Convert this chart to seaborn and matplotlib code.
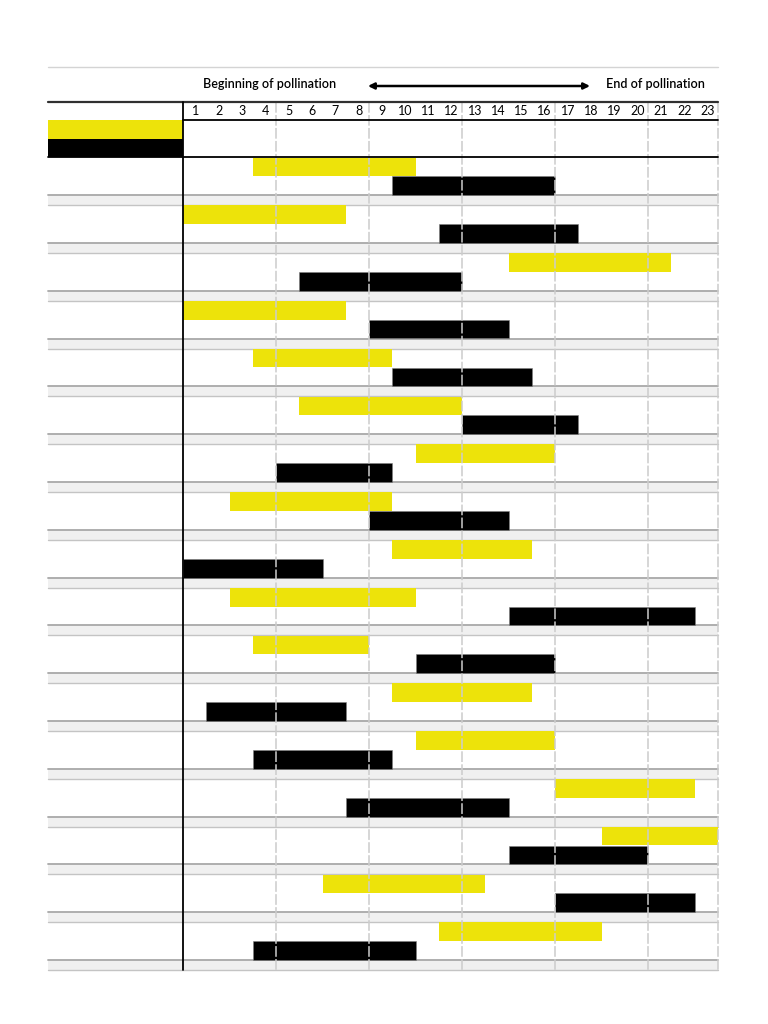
import matplotlib
matplotlib.use('Agg')
import matplotlib.pyplot as plt
import matplotlib.patches as mpatches
import seaborn as sns

# Pollination periods (column numbers 1..23), one pair per row group
yellow_start = [4, 1, 15, 1, 4, 6, 11, 3, 10, 3, 4, 10, 11, 17, 19, 7, 12]
yellow_end = [10, 7, 21, 7, 9, 12, 16, 9, 15, 10, 8, 15, 16, 22, 23, 13, 18]
black_start = [10, 12, 6, 9, 10, 13, 5, 9, 1, 15, 11, 2, 4, 8, 15, 17, 4]
black_end = [16, 17, 12, 14, 15, 17, 9, 14, 6, 22, 16, 7, 9, 14, 20, 22, 10]
columns = list(range(1, 24))
grid_cols = [4, 8, 12, 16, 20, 23]

YELLOW = '#ede30a'
BLACK = '#000000'

sns.set_theme(style='white')
plt.rcParams['font.family'] = ['Lato', 'DejaVu Sans']

fig = plt.figure(figsize=(7.68, 10.24), dpi=100)
ax = fig.add_axes([0, 0, 1, 1])

# x in column units, y in pixel rows (top down)
COL_W = 23.26
X0 = 183
ax.set_xlim(-X0 / COL_W, (768 - X0) / COL_W)
ax.set_ylim(1024, 0)
ax.axis('off')

LEFT = (48 - X0) / COL_W
RIGHT = 23
G0 = 157.5
PERIOD = 47.8
BAR_H = 18.8
SEP_H = 10
BOTTOM = G0 + (len(yellow_start) - 1) * PERIOD + 2 * BAR_H + SEP_H

# separator rows
for g in range(len(yellow_start)):
    top = G0 + g * PERIOD + 2 * BAR_H
    ax.add_patch(mpatches.Rectangle((LEFT, top), RIGHT - LEFT, SEP_H,
                                    facecolor='#f0f0f0', edgecolor='none', zorder=1))
    ax.plot([LEFT, RIGHT], [top, top], color='#a8a8a8', lw=1.3, zorder=2)
    ax.plot([LEFT, RIGHT], [top + SEP_H, top + SEP_H], color='#c4c4c4', lw=1, zorder=2)

# bars
for g in range(len(yellow_start)):
    top = G0 + g * PERIOD
    ax.barh(top + BAR_H / 2, yellow_end[g] - yellow_start[g] + 1, left=yellow_start[g] - 1,
            height=BAR_H, color=YELLOW, edgecolor='none', linewidth=0, zorder=3)
    ax.barh(top + BAR_H * 1.5, black_end[g] - black_start[g] + 1, left=black_start[g] - 1,
            height=BAR_H, color=BLACK, edgecolor='#808080', linewidth=0.4, zorder=3)

# legend swatches in the left column
ax.barh(129.5, -LEFT, left=LEFT, height=19, color=YELLOW, edgecolor='none', linewidth=0, zorder=3)
ax.barh(148, -LEFT, left=LEFT, height=18, color=BLACK, edgecolor='none', linewidth=0, zorder=3)

# grid lines every 4 columns
for c in grid_cols:
    ax.plot([c, c], [102, BOTTOM], color='#cccccc', lw=1.1, ls=(0, (7, 1.5)), zorder=4)

# frame lines
ax.plot([LEFT, RIGHT], [67, 67], color='#d4d4d4', lw=1, zorder=5)
ax.plot([LEFT, RIGHT], [102, 102], color='#303030', lw=1.6, zorder=5)
ax.plot([0, RIGHT], [120, 120], color='#000000', lw=1.3, zorder=5)
ax.plot([LEFT, RIGHT], [157, 157], color='#000000', lw=1.3, zorder=5)
ax.plot([0, 0], [102, BOTTOM], color='#000000', lw=1.3, zorder=5)

# header numbers
for c in columns:
    ax.text(c - 0.45, 111, str(c), ha='center', va='center', fontsize=9, color='#000000')

# title row
ax.text(3.74, 84, 'Beginning of pollination', ha='center', va='center',
        fontsize=9, fontweight='semibold', color='#000000')
ax.text(20.29, 84, 'End of pollination', ha='center', va='center',
        fontsize=9, fontweight='semibold', color='#000000')
ax.annotate('', xy=(17.5, 86), xytext=(7.95, 86),
            arrowprops=dict(arrowstyle='<|-|>', color='black', lw=1.8,
                            mutation_scale=9, shrinkA=0, shrinkB=0))

fig.savefig('out.png', dpi=100)
